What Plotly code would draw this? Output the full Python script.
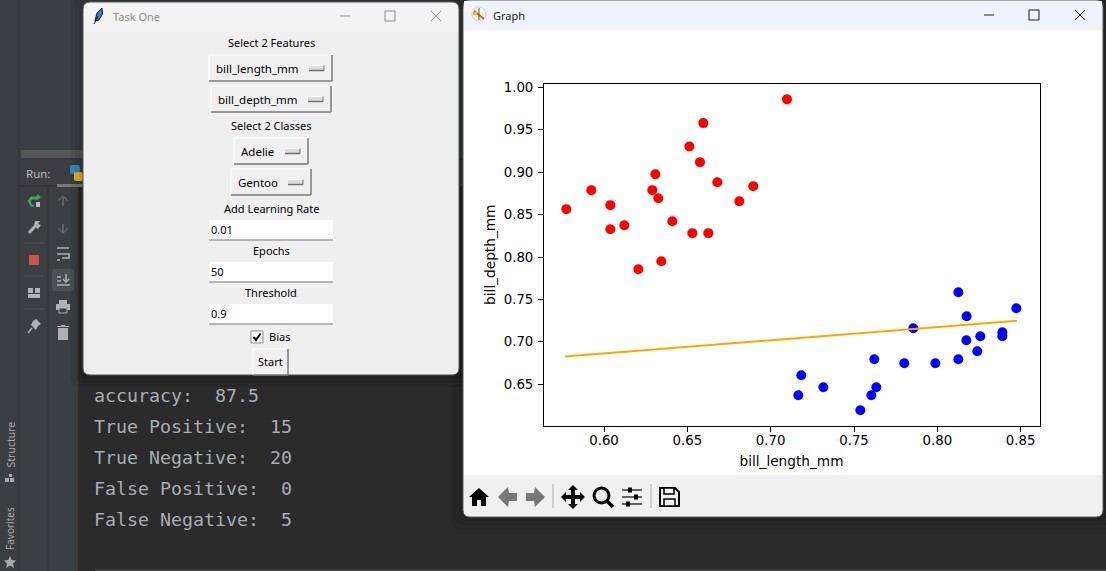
import plotly.graph_objects as go

W, H = 1106, 571

# points
adelie_x = [0.6596, 0.6512, 0.6576, 0.6308, 0.668, 0.6896, 0.629, 0.5924, 0.6326, 0.6812,
            0.6038, 0.5774, 0.6122, 0.6038, 0.641, 0.653, 0.6626, 0.6344, 0.6206, 0.7098]
adelie_y = [0.9578, 0.9302, 0.9118, 0.8976, 0.8882, 0.8835, 0.8788, 0.8788, 0.8693, 0.8658,
            0.8611, 0.8564, 0.8375, 0.8328, 0.8422, 0.8281, 0.8281, 0.795, 0.7856, 0.9858]
gentoo_x = [0.8126, 0.8474, 0.8176, 0.7856, 0.839, 0.839, 0.8258, 0.8174, 0.824, 0.7622,
            0.8126, 0.7802, 0.7988, 0.7184, 0.7316, 0.7634, 0.7166, 0.7604, 0.7538]
gentoo_y = [0.7585, 0.7396, 0.7302, 0.716, 0.7113, 0.7066, 0.7066, 0.7019, 0.6889, 0.6795,
            0.6795, 0.6748, 0.6748, 0.6606, 0.6465, 0.6465, 0.637, 0.637, 0.6193]
boundary_x = [0.5766, 0.8478]
boundary_y = [0.6826, 0.7248]

x_ticks = [0.60, 0.65, 0.70, 0.75, 0.80, 0.85]
y_ticks = [0.65, 0.70, 0.75, 0.80, 0.85, 0.90, 0.95, 1.00]

console_lines = ["accuracy:  87.5", "True Positive:  15", "True Negative:  20",
                 "False Positive:  0", "False Negative:  5"]

UI_FONT = "Noto Sans"
shapes = []
notes = []


def fx(px):
    return px / W


def fy(py):
    return 1 - py / H


def poly(pts, fill="rgba(0,0,0,0)", line=None, width=1, close=True):
    d = "M" + " L".join(f"{fx(x):.5f},{fy(y):.5f}" for x, y in pts) + (" Z" if close else "")
    shapes.append(dict(type="path", path=d, xref="paper", yref="paper", layer="below",
                       fillcolor=fill, line=dict(color=line or "rgba(0,0,0,0)", width=width)))


def rect(x0, y0, x1, y1, fill, line=None, width=1):
    poly([(x0, y0), (x1, y0), (x1, y1), (x0, y1)], fill, line, width)


def seg(x0, y0, x1, y1, color, width=1):
    poly([(x0, y0), (x1, y1)], line=color, width=width, close=False)


def circle(x0, y0, x1, y1, fill="rgba(0,0,0,0)", line=None, width=1):
    shapes.append(dict(type="circle", xref="paper", yref="paper", layer="below",
                       x0=fx(x0), x1=fx(x1), y0=fy(y0), y1=fy(y1), fillcolor=fill,
                       line=dict(color=line or "rgba(0,0,0,0)", width=width)))


def rrect(x0, y0, x1, y1, r, fill, line=None):
    def p(x, y):
        return f"{fx(x):.5f},{fy(y):.5f}"
    d = (f"M{p(x0 + r, y0)} L{p(x1 - r, y0)} Q{p(x1, y0)} {p(x1, y0 + r)} L{p(x1, y1 - r)} "
         f"Q{p(x1, y1)} {p(x1 - r, y1)} L{p(x0 + r, y1)} Q{p(x0, y1)} {p(x0, y1 - r)} "
         f"L{p(x0, y0 + r)} Q{p(x0, y0)} {p(x0 + r, y0)} Z")
    shapes.append(dict(type="path", path=d, xref="paper", yref="paper", layer="below",
                       fillcolor=fill, line=dict(color=line or "rgba(0,0,0,0)", width=1)))


def shadow(x0, y0, x1, y1):
    # soft dark edge around a window
    for grow in (12, 8, 4):
        rrect(x0 - grow, y0 - grow, x1 + grow, y1 + grow, 8, "rgba(0,0,0,0.06)")


def text(x, y, s, size=12, color="#000000", anchor="left", font=UI_FONT, angle=0):
    notes.append(dict(x=fx(x), y=fy(y), xref="paper", yref="paper", text=s, showarrow=False,
                      xanchor=anchor, yanchor="middle", textangle=angle, borderpad=0, borderwidth=0,
                      font=dict(family=font, size=size, color=color)))


def win_buttons(xs, y, color):
    seg(xs[0] - 5, y, xs[0] + 5, y, color)
    rect(xs[1] - 5, y - 5, xs[1] + 5, y + 5, "rgba(0,0,0,0)", color)
    seg(xs[2] - 5, y - 5, xs[2] + 5, y + 5, color)
    seg(xs[2] - 5, y + 5, xs[2] + 5, y - 5, color)


def tk_button(x0, y0, x1, y1):
    rect(x0, y0, x1, y1, "#f0f0f0")
    seg(x0, y0, x1, y0, "#ffffff")
    seg(x0, y0, x0, y1, "#ffffff")
    seg(x0, y1, x1, y1, "#7a7a7a", 1.5)
    seg(x1, y0, x1, y1, "#7a7a7a", 1.5)


def option_menu(x0, y0, x1, y1, label):
    tk_button(x0, y0, x1, y1)
    mid = (y0 + y1) / 2
    text(x0 + 7, mid + 0.5, label, 11.5)
    rect(x1 - 23, mid - 2.5, x1 - 8, mid + 2.5, "#dcdcdc")
    seg(x1 - 23, mid - 2.5, x1 - 8, mid - 2.5, "#ffffff")
    seg(x1 - 23, mid + 2.5, x1 - 8, mid + 2.5, "#707070", 1.5)
    seg(x1 - 8, mid - 2.5, x1 - 8, mid + 2.5, "#707070")


def entry(y0, value):
    rect(209, y0, 333, y0 + 20, "#ffffff")
    seg(209, y0 + 20, 333, y0 + 20, "#a0a0a0", 1.5)
    text(211, y0 + 9, value, 11)


# ---- IDE behind the windows
rect(0, 0, W, H, "#2b2b2b")
rect(0, 0, 78, H, "#3c3f41")
rect(78, 0, 83, 160, "#3c3f41")
rect(0, 0, 463, 160, "#3c3f41")
rect(78, 160, 463, 186, "#3c3f41")
seg(19, 0, 19, H, "#323232")
seg(48, 186, 48, H, "#323232")
rect(21, 150, 90, 158, "#555555")
seg(20, 159, 463, 159, "#323232")
seg(20, 186, 463, 186, "#323232")
rect(57, 184, 90, 187, "#747a80")
text(26, 174, "Run:", 11.5, "#bbbbbb")
seg(95, 570, W, 570, "#555555")

# run python icon
rrect(70, 165, 80, 174, 2, "#3d85c6")
rrect(74, 172, 83, 181, 2, "#e8b923")

# left tool strip
poly([(38, 197), (31, 197), (28, 201), (31, 206), (34, 206), (31, 204), (30, 201), (32, 199), (38, 199)],
     "#4aa35a", "#4aa35a")
poly([(37, 194), (41, 197), (37, 200)], "#4aa35a")
rect(36, 202, 40, 207, "#bbbbbb")
seg(29, 233, 37, 224, "#afb1b3", 3)
poly([(35, 221), (40, 221), (38, 224), (41, 225), (38, 229), (34, 226)], "#afb1b3")
seg(24, 243, 44, 243, "#515658")
rect(29, 255, 39, 265, "#c75450")
seg(24, 276, 44, 276, "#515658")
rect(28, 288, 33, 293, "#afb1b3")
rect(35, 288, 40, 293, "#afb1b3")
rect(28, 294, 40, 298, "#afb1b3")
seg(24, 309, 44, 309, "#515658")
poly([(33, 321), (36, 319), (41, 324), (38, 326), (36, 330), (31, 325)], "#afb1b3")
seg(32, 328, 28, 333, "#afb1b3", 1.5)
seg(63, 206, 63, 197, "#5f6265", 2)
poly([(58, 201), (63, 196), (68, 201)], line="#5f6265", width=1.5, close=False)
seg(63, 224, 63, 233, "#5f6265", 2)
poly([(58, 228), (63, 233), (68, 228)], line="#5f6265", width=1.5, close=False)
seg(57, 248, 69, 248, "#afb1b3", 1.5)
poly([(57, 254), (69, 254), (69, 258), (62, 258)], line="#afb1b3", width=1.5, close=False)
seg(57, 260, 60, 260, "#afb1b3", 1.5)
rrect(52, 269, 74, 291, 3, "#4c5052")
seg(57, 277, 61, 277, "#afb1b3", 1.5)
seg(57, 281, 61, 281, "#afb1b3", 1.5)
seg(57, 285, 70, 285, "#afb1b3", 1.5)
seg(66, 274, 66, 282, "#afb1b3", 1.5)
poly([(63, 279), (66, 282), (69, 279)], line="#afb1b3", width=1.5, close=False)
rect(59, 300, 67, 304, "#afb1b3")
rect(56, 304, 70, 310, "#afb1b3")
rect(59, 308, 67, 313, "#3c3f41", "#afb1b3")
rect(58, 328, 68, 340, "#afb1b3")
rect(57, 326, 69, 327, "#afb1b3")
rect(61, 325, 65, 326, "#afb1b3")

text(10, 444.5, "Structure", 10.5, "#a9a9a9", "center", angle=-90)
rect(9, 474, 12, 477, "#a9a9a9")
rect(5, 478, 9, 482, "#a9a9a9")
rect(10, 478, 14, 482, "#a9a9a9")
text(10, 529, "Favorites", 10, "#a9a9a9", "center", angle=-90)
poly([(10, 556), (11.8, 560), (16, 560.5), (13, 563.4), (14, 568), (10, 565.6), (6, 568), (7, 563.4), (4, 560.5), (8.2, 560)],
     "#a9a9a9")

# console output
for i, line in enumerate(console_lines):
    text(94, 395 + i * 31, line.replace(" ", "&nbsp;"), 18.3, "#a8adb0", font="DejaVu Sans Mono")

shadow(83, 2, 459, 375)
shadow(463, 0, 1103, 517)

# ---- Task One window
rrect(83, 2, 459, 375, 7, "#efefef", "#555555")
rrect(84, 3, 458, 32, 6, "#f3f3f3")
rect(84, 20, 458, 32, "#f3f3f3")
poly([(95, 21), (97, 13), (102, 8), (102.5, 14), (99, 20)], "#3b7dd8", "#111111")
seg(94, 24, 98, 16, "#111111")
text(113, 16, "Task One", 11, "#8c8c8c")
win_buttons([345, 390, 436], 16, "#8a8a8a")

text(271, 43, "Select 2 Features", 11, anchor="center")
option_menu(209, 55, 332, 81, "bill_length_mm")
option_menu(211, 86, 331, 112, "bill_depth_mm")
text(271, 125.5, "Select 2 Classes", 11, anchor="center")
option_menu(234, 138, 308, 164, "Adelie")
option_menu(231, 169, 311, 195, "Gentoo")
text(271, 208.5, "Add Learning Rate", 11, anchor="center")
entry(220, "0.01")
text(271, 250.5, "Epochs", 11, anchor="center")
entry(262, "50")
text(271, 292.5, "Threshold", 11, anchor="center")
entry(304, "0.9")
rect(251, 331, 263, 343, "#ffffff", "#8a8a8a")
poly([(253.5, 337), (256, 340), (260.5, 333.5)], line="#000000", width=2, close=False)
text(269, 336.5, "Bias", 11)
tk_button(253, 349, 288, 375)
text(270.5, 361.5, "Start", 11, anchor="center")

# ---- Graph window
rrect(463, 0, 1103, 517, 7, "#ffffff", "#555555")
rect(464, 1, 1102, 30, "#f0f3f9")
rrect(464, 475, 1102, 516, 6, "#f0f0f0")
rect(464, 475, 1102, 495, "#f0f0f0")
circle(472, 7, 486, 21, "#ffffff", "#cfcfcf")
seg(474, 11, 484, 19, "#e05a00", 2)
seg(479, 8, 479, 20, "#555555", 1)
rect(473, 12, 477, 15, "#e8b923")
text(493, 15, "Graph", 11, "#222222")
win_buttons([989, 1034, 1080], 15, "#1a1a1a")

# toolbar icons
poly([(469, 497), (479, 488), (489, 497), (486, 497), (486, 506), (481, 506), (481, 500), (477, 500), (477, 506), (472, 506), (472, 497)],
     "#000000")
poly([(508, 487), (498, 497), (508, 507), (509, 501), (517, 501), (517, 493), (509, 493)], "#777777")
poly([(535, 487), (545, 497), (535, 507), (534, 501), (526, 501), (526, 493), (534, 493)], "#777777")
seg(553, 484, 553, 508, "#aaaaaa")
poly([(573, 485), (578, 490), (575, 490), (575, 495), (580, 495), (580, 492), (585, 497), (580, 502), (580, 499), (575, 499),
      (575, 504), (578, 504), (573, 509), (568, 504), (571, 504), (571, 499), (566, 499), (566, 502), (561, 497), (566, 492),
      (566, 495), (571, 495), (571, 490), (568, 490)], "#000000")
circle(594, 488, 609, 503, line="#000000", width=3)
seg(607, 501, 613, 507, "#000000", 3.5)
for yy, xm in [(490, 630), (497, 636), (504, 628)]:
    seg(622, yy, 642, yy, "#333333", 1.5)
    rect(xm - 2, yy - 2.5, xm + 2, yy + 2.5, "#000000")
seg(651, 484, 651, 508, "#aaaaaa")
poly([(660, 488), (675, 488), (679, 492), (679, 506), (660, 506)], "#f0f0f0", "#000000", 2)
rect(664, 488, 674, 494, "#f0f0f0", "#000000", 1.5)
rect(664, 499, 675, 506, "#f0f0f0", "#000000", 1.5)

# ---- the actual plot
fig = go.Figure()
fig.add_trace(go.Scatter(x=adelie_x, y=adelie_y, mode="markers",
                         marker=dict(color="#ff0000", size=10, line=dict(width=0))))
fig.add_trace(go.Scatter(x=gentoo_x, y=gentoo_y, mode="markers",
                         marker=dict(color="#0000ff", size=10, line=dict(width=0))))
fig.add_trace(go.Scatter(x=boundary_x, y=boundary_y, mode="lines",
                         line=dict(color="#ffa500", width=2)))

axis_style = dict(showgrid=False, zeroline=False, showline=True, mirror=True, linecolor="#000000",
                  linewidth=1, ticks="outside", ticklen=4.5, tickwidth=1, tickcolor="#000000",
                  tickformat=".2f", tickfont=dict(family="DejaVu Sans", size=13.3, color="#000000"))
fig.update_xaxes(axis_style, range=[0.5637, 0.8613], tickvals=x_ticks, ticklabelstandoff=-2,
                 domain=[fx(543.5), fx(1039.5)], automargin=False,
                 title=dict(text="bill_length_mm", standoff=8,
                            font=dict(family="DejaVu Sans", size=13.7, color="#000000")))
fig.update_yaxes(axis_style, range=[0.6008, 1.0045], tickvals=y_ticks, ticklabelstandoff=2,
                 domain=[fy(426), fy(83.5)], automargin=False,
                 title=dict(text="bill_depth_mm", standoff=4,
                            font=dict(family="DejaVu Sans", size=13.7, color="#000000")))
fig.update_layout(width=W, height=H, margin=dict(l=0, r=0, t=0, b=0), showlegend=False,
                  paper_bgcolor="#2b2b2b", plot_bgcolor="rgba(0,0,0,0)",
                  shapes=shapes, annotations=notes)

fig.write_html("out.html", config={"displayModeBar": False},
               post_script="document.body.style.margin='0';document.body.style.overflow='hidden';")
